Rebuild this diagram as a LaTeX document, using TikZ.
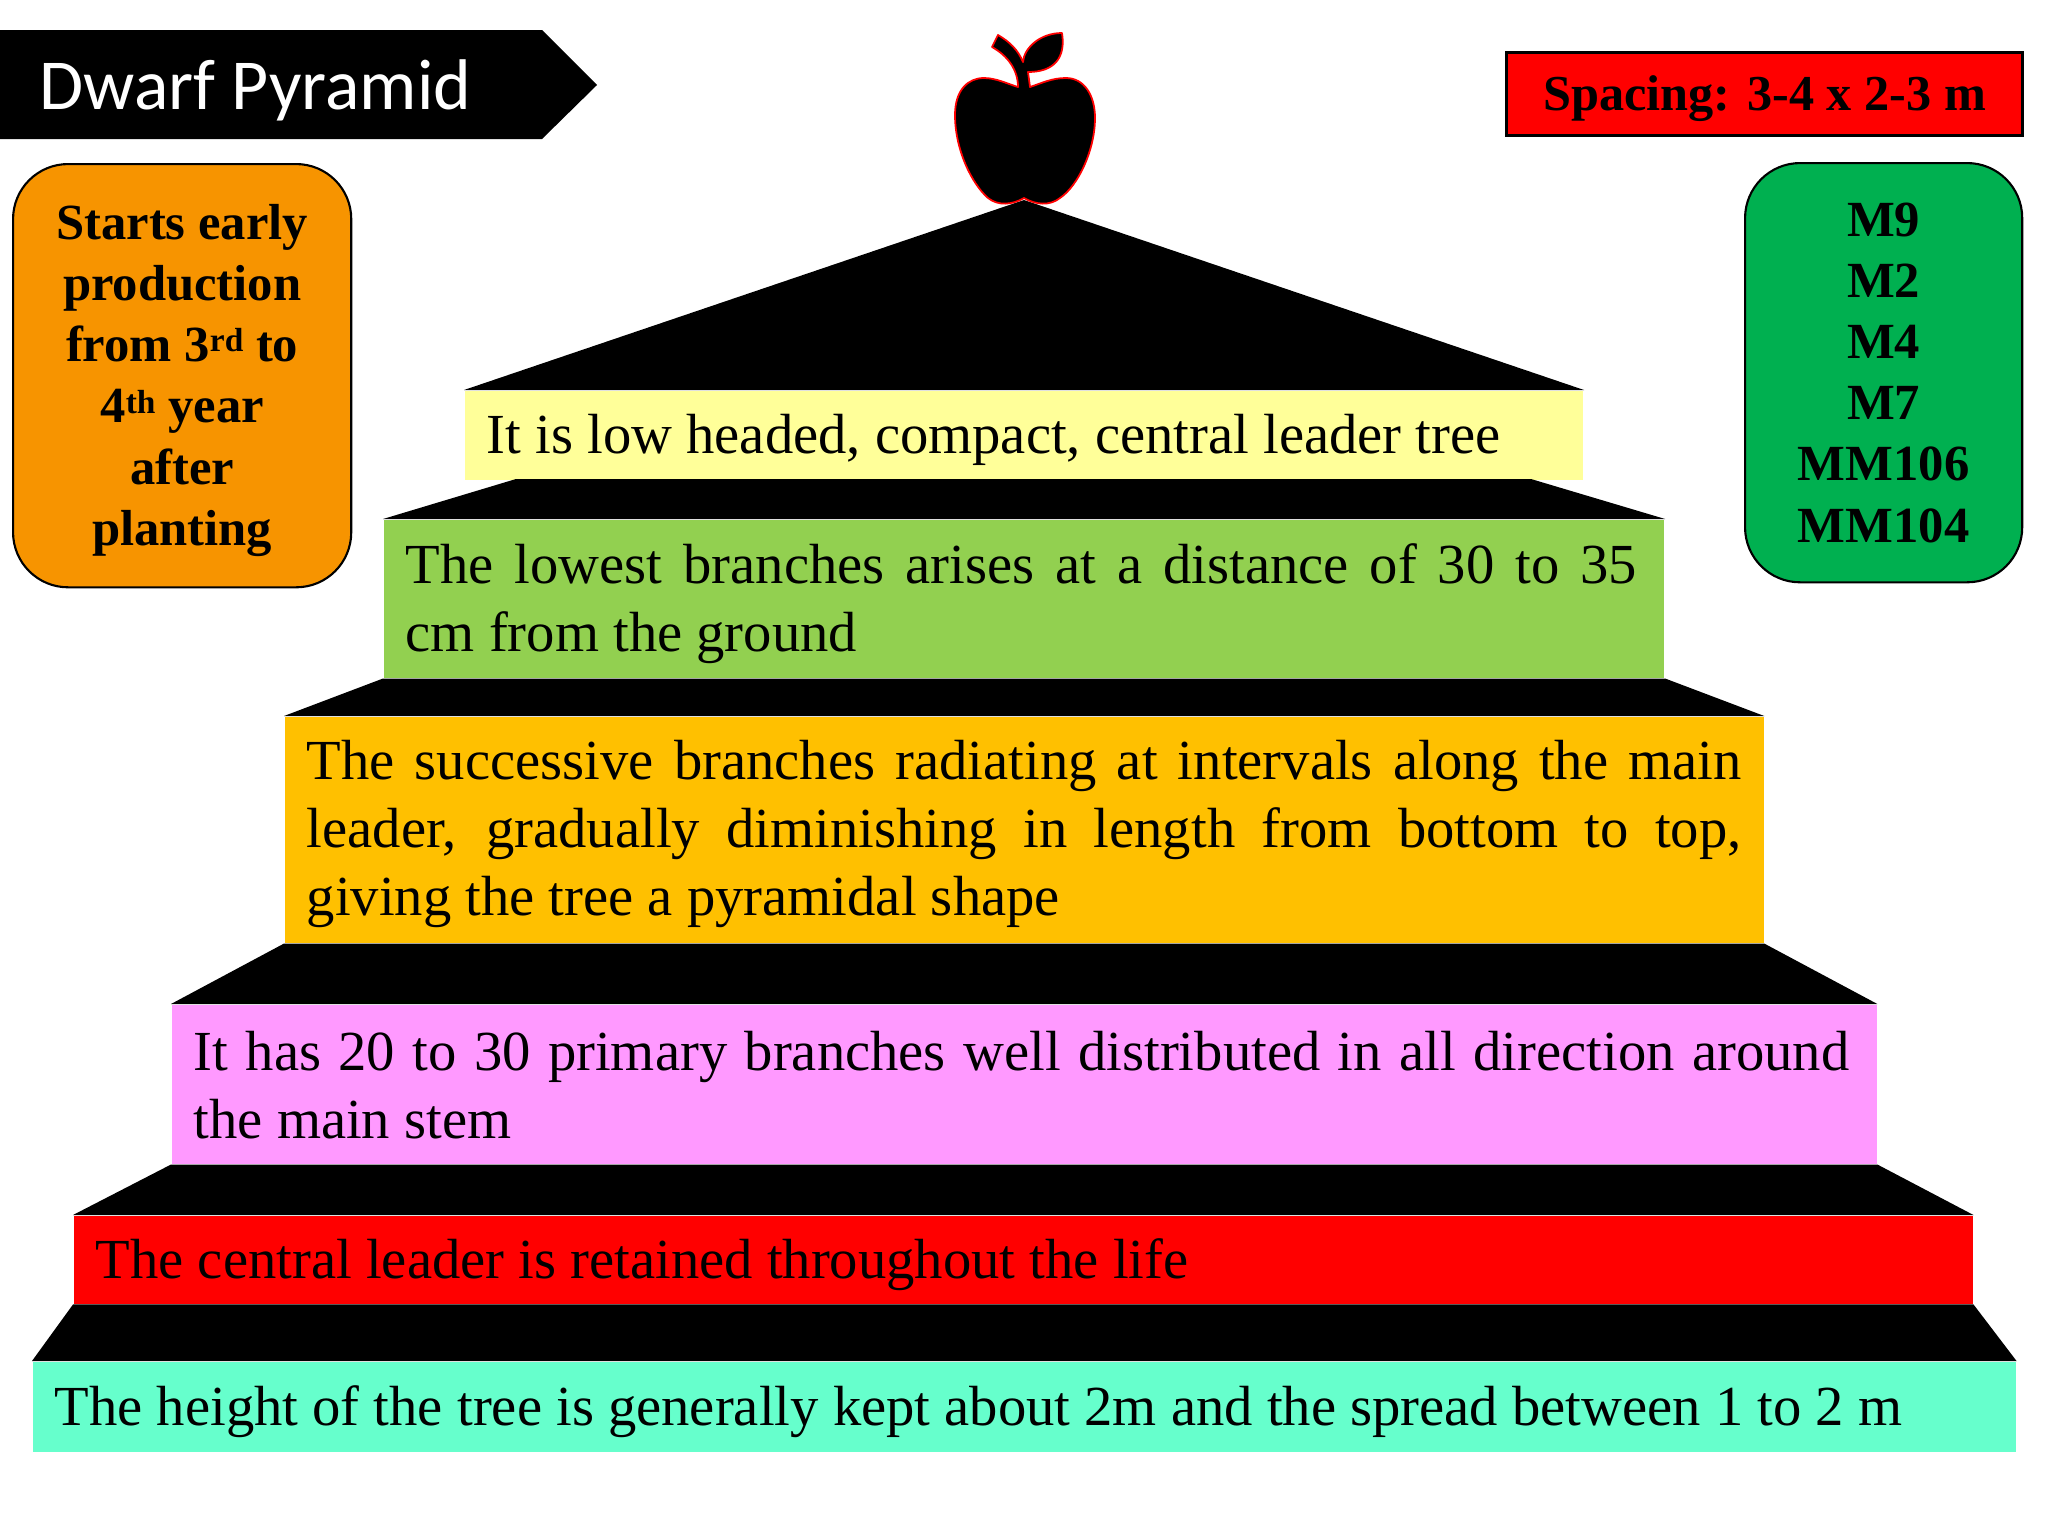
\documentclass[tikz,border=0pt]{standalone}
\usepackage{fontspec}
\setmainfont{Liberation Serif}
\newfontfamily\titlefont{Carlito}
\usetikzlibrary{positioning,calc}
\definecolor{bandyellow}{HTML}{FFFF99}
\definecolor{bandgreen}{HTML}{92D050}
\definecolor{bandorange}{HTML}{FFC000}
\definecolor{bandpink}{HTML}{FF99FF}
\definecolor{bandred}{HTML}{FF0000}
\definecolor{bandteal}{HTML}{66FFCC}
\definecolor{boxorange}{HTML}{F79400}
\definecolor{boxgreen}{HTML}{00B050}
\newcommand{\supword}[1]{\raisebox{0.42ex}{\fontsize{9.5}{10}\selectfont #1}}
\tikzset{
	band/.style={fill=#1, anchor=north west, inner xsep=0.22cm, inner ysep=0pt, align=justify, font=\fontsize{16.1}{19.4}\selectfont},
	textrise/.style={execute at begin node=\rule{0pt}{#1}},
	sidebox/.style={draw=black, line width=0.6pt, fill=#1, rounded corners=0.55cm, anchor=north west, align=flush center, inner sep=0pt, font=\fontsize{14.4}{17.4}\selectfont\bfseries},
}

\begin{document}
\begin{tikzpicture}[x=0.01cm, y=-0.01cm]
	\useasboundingbox (0,0) rectangle (2048,1536);

	% title arrow
	\fill[black] (0,30) -- (542,30) -- (597,85) -- (542,139) -- (0,139) -- cycle;
	\node[anchor=west, inner sep=0pt, text=white, font=\fontsize{20.4}{24}\titlefont] (title) at (39,90) {Dwarf Pyramid};

	% the bands, top to bottom
	\node[band=bandyellow, textrise=14pt, text width=10.74cm, minimum height=0.89cm] (yellow) at (464,390) {It is low headed, compact, central leader tree};
	\node[band=bandgreen, textrise=14pt, text width=12.36cm, minimum height=1.58cm] (green) at (383,519) {\rightskip=0.055cm The lowest branches arises at a distance of 30 to 35\linebreak cm from the ground\par};
	\node[band=bandorange, textrise=13.4pt, text width=14.34cm, minimum height=2.26cm] (orange) at (284,716) {The successive branches radiating at intervals along the main\linebreak leader, gradually diminishing in length from bottom to top,\linebreak giving the tree a pyramidal shape};
	\node[band=bandpink, textrise=11.6pt, text width=16.6cm, minimum height=1.59cm] (pink) at (171,1004) {\rightskip=0.055cm It has 20 to 30 primary branches well distributed in all direction around\linebreak the main stem\par};
	\node[band=bandred, textrise=14pt, text width=18.54cm, minimum height=0.88cm] (red) at (73,1215) {The central leader is retained throughout the life};
	\node[band=bandteal, textrise=14pt, text width=19.38cm, minimum height=0.9cm] (teal) at (32,1361) {The height of the tree is generally kept about 2m and the spread between 1 to 2 m};

	% black roof and steps between the bands
	\coordinate (apex) at (1024,200);
	\fill[black] (apex) -- (yellow.north east) -- (yellow.north west) -- cycle;
	\fill[black] (516,479) -- (1531,479) -- (green.north east) -- (green.north west) -- cycle;
	\fill[black] (green.south west) -- (green.south east) -- (orange.north east) -- (orange.north west) -- cycle;
	\fill[black] (orange.south west) -- (orange.south east) -- (pink.north east) -- (pink.north west) -- cycle;
	\fill[black] (pink.south west) -- (pink.south east) -- (red.north east) -- (red.north west) -- cycle;
	\fill[black] (red.south west) -- (red.south east) -- (teal.north east) -- (teal.north west) -- cycle;

	% apple
	\draw[draw=red, line width=0.5pt, fill=black, line join=round] (1024,198)
		.. controls (1012,205) and (998,206) .. (988,198)
		.. controls (972,184) and (955,150) .. (955,115)
		.. controls (955,90) and (968,78) .. (984,78)
		.. controls (996,78) and (1008,84) .. (1018,87)
		.. controls (1018,70) and (1008,56) .. (992,47)
		-- (998,35)
		.. controls (1010,42) and (1018,50) .. (1023,62)
		.. controls (1024,48) and (1040,33) .. (1062,33)
		.. controls (1066,58) and (1054,72) .. (1028,72)
		-- (1030,87)
		.. controls (1042,83) and (1052,78) .. (1066,78)
		.. controls (1084,78) and (1095,95) .. (1095,118)
		.. controls (1095,150) and (1078,186) .. (1060,198)
		.. controls (1050,206) and (1036,205) .. (1024,198) -- cycle;

	% side boxes
	\node[draw=black, line width=0.8pt, fill=bandred, anchor=north west, text width=5.16cm, minimum height=0.83cm, inner sep=0pt, align=flush center, font=\fontsize{14.3}{17.4}\selectfont\bfseries, textrise=12.6pt] (spacing) at (1505,51) {Spacing: 3-4 x 2-3 m};
	\node[sidebox=boxorange, text width=3.38cm, minimum height=4.23cm, textrise=12.6pt] (starts) at (12,163) {Starts early\\production\\from 3\supword{rd} to\\4\supword{th} year\\after\\planting};
	\node[sidebox=boxgreen, text width=2.77cm, minimum height=4.19cm] (stocks) at (1744,162) {M9\\M2\\M4\\M7\\MM106\\MM104};
\end{tikzpicture}
\end{document}
